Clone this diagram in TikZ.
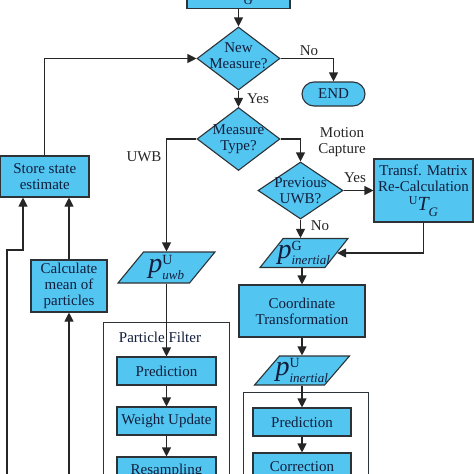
\documentclass[tikz,border=0pt]{standalone}
\usepackage{fontspec}
\setmainfont{Liberation Serif}
\usetikzlibrary{shapes.geometric,arrows.meta}
\definecolor{boxfill}{RGB}{82,197,240}
\definecolor{boxline}{RGB}{45,50,55}
\definecolor{txt}{RGB}{18,30,60}
\newcommand{\pv}[2]{\fontsize{22}{22}\selectfont$\hbox{\fontsize{28}{28}\selectfont\itshape p}^{\hbox{\fontsize{14}{14}\selectfont #1}}_{\hbox{\fontsize{13}{13}\selectfont\itshape #2}}$}
\newcommand{\utg}{\raisebox{6pt}{\fontsize{12}{12}\selectfont U}{\fontsize{20}{20}\selectfont\itshape T}\raisebox{-6pt}{\fontsize{13}{13}\selectfont\itshape G}}
\begin{document}
\begin{tikzpicture}[x=1pt,y=-1pt,
  every node/.style={font=\fontsize{15}{16}\selectfont},
  proc/.style={draw=boxline, line width=1.1pt, fill=boxfill, inner sep=0pt, text=txt, align=center},
  dec/.style={diamond, draw=boxline, line width=1.1pt, fill=boxfill, inner sep=0pt},
  dtext/.style={text=txt, align=center, inner sep=0pt},
  io/.style={trapezium, trapezium left angle=61, trapezium right angle=119, trapezium stretches=true, draw=boxline, line width=1.1pt, fill=boxfill, inner sep=2pt},
  frame/.style={draw=boxline, line width=1pt, fill=white, inner sep=0pt, anchor=north west},
  conn/.style={line width=1.1pt, draw=black!85},
  arr/.style={conn, -{Triangle[length=9pt,width=9pt]}},
  lab/.style={text=black!85, inner sep=0pt}
]
\useasboundingbox (0,0) rectangle (474,474);
\clip (0,0) rectangle (474,474);
% frames
\node[frame, minimum width=126pt, minimum height=200pt] (pf) at (103,322) {};
\node[frame, minimum width=125pt, minimum height=130pt] (kf) at (243,392) {};
% nodes
\node[proc, anchor=south, minimum width=103pt, inner ysep=4pt, text depth=6pt] (init) at (238.5,9) {\utg};
\node[dec, minimum width=83pt, minimum height=63pt, label={[dtext, yshift=3pt]center:{New\\Measure?}}] (nm) at (238.5,58.5) {};
\node[proc, rounded corners=12pt, minimum width=63pt, minimum height=24pt] (stop) at (333.5,94) {END};
\node[dec, minimum width=83pt, minimum height=63pt, label={[dtext]center:{Measure\\Type?}}] (mt) at (238.5,139) {};
\node[dec, minimum width=85pt, minimum height=57pt, label={[dtext]center:{Previous\\UWB?}}] (pu) at (300.5,190.5) {};
\node[proc, minimum width=99pt, minimum height=63pt] (tm) at (423.5,190.5) {Transf. Matrix\\Re-Calculation\\[3pt]{\utg}};
\node[io, minimum width=88pt, minimum height=29pt, label={[dtext]center:{\pv{G}{inertial}}}] (pig) at (304,253) {};
\node[proc, minimum width=126pt, minimum height=52pt] (ct) at (302,311) {Coordinate\\Transformation};
\node[io, minimum width=95pt, minimum height=29pt, label={[dtext]center:{\pv{U}{inertial}}}] (piu) at (302,370.5) {};
\node[proc, minimum width=98pt, minimum height=28pt] (kp) at (302,422) {Prediction};
\node[proc, minimum width=98pt, minimum height=28pt] (kc) at (302,467) {Correction};
\node[io, minimum width=97pt, minimum height=31pt, label={[dtext]center:{\pv{U}{uwb}}}] (puwb) at (166.5,267.5) {};
\node[lab, text=txt] (pflabel) at (160,337) {Particle Filter};
\node[proc, minimum width=99pt, minimum height=28pt] (pp) at (166.5,371) {Prediction};
\node[proc, minimum width=99pt, minimum height=28pt] (wu) at (166.5,421) {Weight Update};
\node[proc, minimum width=99pt, minimum height=28pt] (rs) at (166.5,471) {Resampling};
\node[proc, minimum width=88.5pt, minimum height=41pt] (store) at (44.75,176.5) {Store state\\estimate};
\node[proc, minimum width=76pt, minimum height=52pt] (calc) at (69,286) {Calculate\\mean of\\particles};
% labels
\node[lab] (lno1) at (309,51) {No};
\node[lab] (lyes1) at (258,99) {Yes};
\node[lab] (luwb) at (144,157) {UWB};
\node[lab, align=center] (lmc) at (342,142) {Motion\\Capture};
\node[lab] (lyes2) at (355,178) {Yes};
\node[lab] (lno2) at (320,226) {No};
% connectors
\draw[arr] (init.south) -- (nm.north);
\draw[arr] (nm.east) -| (stop.north);
\draw[arr] (nm.south) -- (mt.north);
\draw[arr] (mt.west) -| (puwb.north);
\draw[arr] (mt.east) -| (pu.north);
\draw[arr] (pu.east) -- (tm.west);
\draw[arr] (pu.south) -- (pu.south |- pig.north);
\draw[arr] (tm.south) |- (pig.east);
\draw[arr] (ct.north |- pig.south) -- (ct.north);
\draw[arr] (ct.south) -- (ct.south |- piu.north);
\draw[arr] (piu.south) -- (kp.north);
\draw[arr] (kp.south) -- (kc.north);
\draw[arr] (puwb.south) -- (pp.north);
\draw[arr] (pp.south) -- (wu.north);
\draw[arr] (wu.south) -- (rs.north);
\draw[arr] (store.north) |- (nm.west);
\coordinate (lb) at (7,490);
\coordinate (lk) at (23,250);
\draw[arr] (lb) |- (lk) -- (lk |- store.south);
\coordinate (mb) at (69,490);
\draw[arr] (mb) -- (calc.south);
\draw[arr] (calc.north) -- (calc.north |- store.south);
\end{tikzpicture}
\end{document}
